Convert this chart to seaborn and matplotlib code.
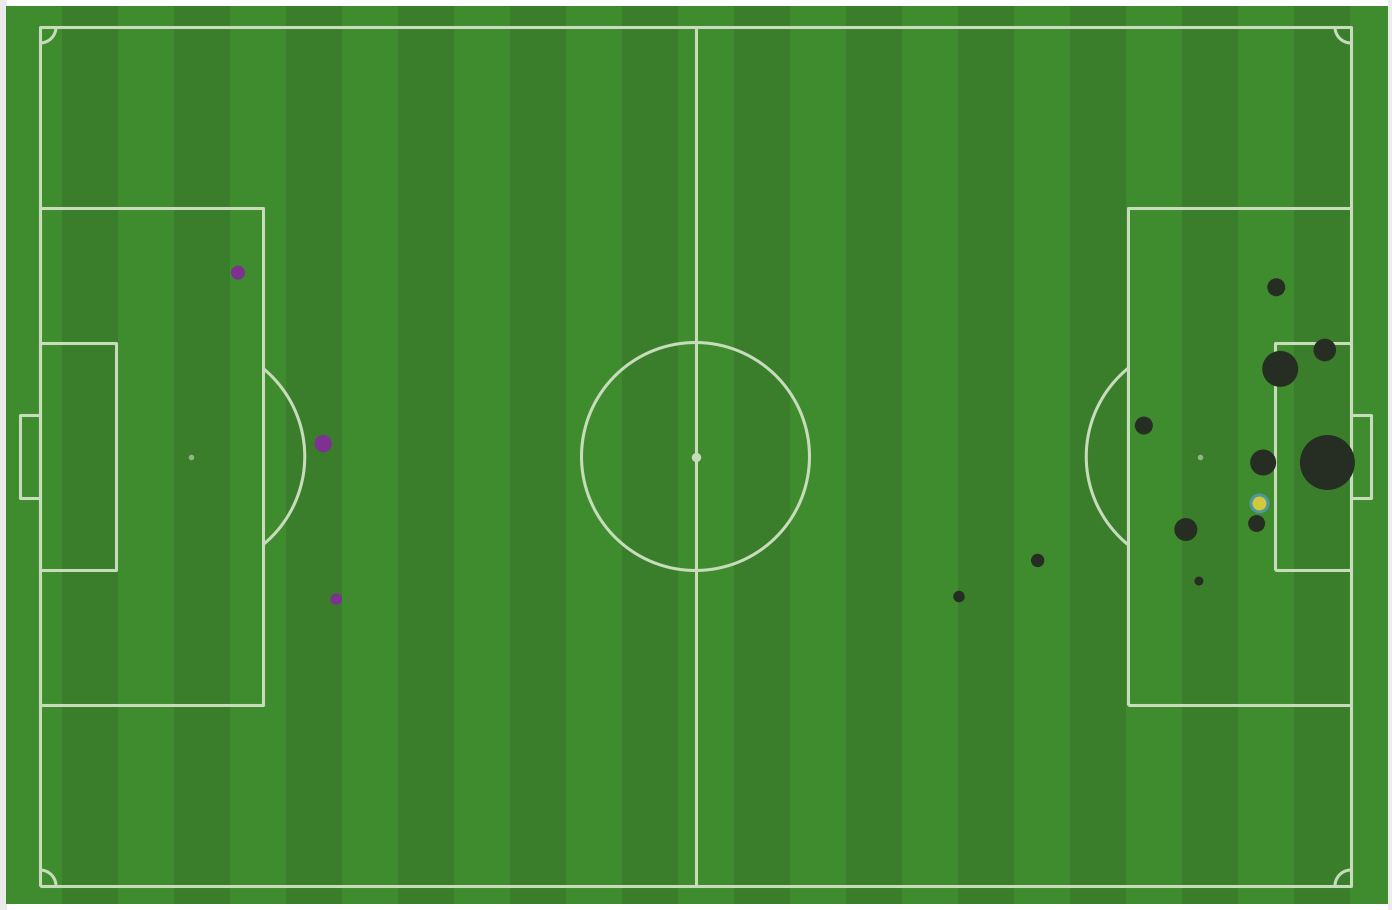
import numpy as np
import pandas as pd
import matplotlib
matplotlib.use("Agg")
import matplotlib.pyplot as plt
from matplotlib.patches import Rectangle
import seaborn as sns

# ---------------- data (Opta-style 0-100 pitch coordinates) ----------------
team_shot_x = [94.3, 98.0, 94.6, 84.2, 93.3, 98.2, 92.8, 87.4, 88.4, 76.1, 70.1]
team_shot_y = [69.7, 62.4, 60.2, 53.6, 49.3, 49.3, 42.2, 41.5, 35.5, 37.9, 33.7]
team_shot_xg = [0.081, 0.128, 0.324, 0.081, 0.169, 0.757, 0.072, 0.132, 0.020, 0.045, 0.033]

goal_x = [93.0]
goal_y = [44.6]
goal_xg = [0.072]

opp_shot_x = [15.1, 21.6, 22.6]
opp_shot_y = [71.4, 51.5, 33.4]
opp_shot_xg = [0.049, 0.076, 0.033]

# ---------------- figure / axes ----------------
W, H = 1392, 910
fig = plt.figure(figsize=(W / 100, H / 100), dpi=100, facecolor="white")
# light grey side strips of the frame
fig.patches.append(Rectangle((0, 0), 6 / W, 1, transform=fig.transFigure,
                             color="#ebebeb", zorder=-10))
fig.patches.append(Rectangle((1388 / W, 0), 4 / W, 1, transform=fig.transFigure,
                             color="#ebebeb", zorder=-10))

ax = fig.add_axes([6 / W, 6 / H, 1382 / W, 898 / H])
PX_X = 13.11   # pixels per x unit
PX_Y = 8.59    # pixels per y unit
x0_px, y0_px = 40, 886
ax.set_xlim((6 - x0_px) / PX_X, (1388 - x0_px) / PX_X)
ax.set_ylim((y0_px - 904) / PX_Y, (y0_px - 6) / PX_Y)
ax.axis("off")

# grass stripes
light_green = "#3f8c2e"
dark_green = "#3a7d2b"
ax.set_facecolor(light_green)
xmin, xmax = ax.get_xlim()
stripe_w = 56 / PX_X
k = 0
edge = xmin
while edge < xmax:
    ax.axvspan(edge, edge + stripe_w, color=light_green if k % 2 == 0 else dark_green,
               lw=0, zorder=0)
    edge += stripe_w
    k += 1

# pitch lines
lc = "#c6dcbb"
lw = 2.2


def line(xs, ys):
    ax.plot(xs, ys, color=lc, lw=lw, solid_capstyle="butt", zorder=2)


def rect(x1, x2, y1, y2):
    line([x1, x2, x2, x1, x1], [y1, y1, y2, y2, y1])


rect(0, 100, 0, 100)
line([50, 50], [0, 100])
rect(0, 17, 21.1, 78.9)
rect(83, 100, 21.1, 78.9)
rect(0, 5.8, 36.8, 63.2)
rect(94.2, 100, 36.8, 63.2)
line([0, -1.5, -1.5, 0], [45.2, 45.2, 54.8, 54.8])
line([100, 101.5, 101.5, 100], [45.2, 45.2, 54.8, 54.8])

R = 114  # px radius of centre circle
rx, ry = R / PX_X, R / PX_Y
t = np.linspace(0, 2 * np.pi, 400)
line(50 + rx * np.cos(t), 50 + ry * np.sin(t))

a = np.arccos(72 / R)
t = np.linspace(-a, a, 200)
line(11.5 + rx * np.cos(t), 50 + ry * np.sin(t))
line(88.5 - rx * np.cos(t), 50 + ry * np.sin(t))

cr = 16
crx, cry = cr / PX_X, cr / PX_Y
t = np.linspace(0, np.pi / 2, 50)
line(crx * np.cos(t), 100 - cry * np.sin(t))
line(100 - crx * np.cos(t), 100 - cry * np.sin(t))
line(crx * np.cos(t), cry * np.sin(t))
line(100 - crx * np.cos(t), cry * np.sin(t))

# spots
ax.scatter([50], [50], s=45, color=lc, lw=0, zorder=2)
ax.scatter([11.5, 88.5], [50, 50], s=16, color="#8fb585", lw=0, zorder=2)

# ---------------- shots ----------------
S_SCALE = 2070  # pt^2 per unit xG (area proportional to xG)
team = pd.DataFrame({"x": team_shot_x, "y": team_shot_y, "xg": team_shot_xg})
opp = pd.DataFrame({"x": opp_shot_x, "y": opp_shot_y, "xg": opp_shot_xg})
goals = pd.DataFrame({"x": goal_x, "y": goal_y, "xg": goal_xg})

common = dict(size="xg", sizes=(0, S_SCALE), size_norm=(0, 1), legend=False, ax=ax)
sns.scatterplot(data=team, x="x", y="y", color="#262e23", linewidth=0, zorder=5, **common)
sns.scatterplot(data=opp, x="x", y="y", color="#7e3190", linewidth=0, zorder=5, **common)
sns.scatterplot(data=goals, x="x", y="y", color="#d0c93b", edgecolor="#4f98a0",
                linewidth=2.2, zorder=6, **common)

ax.set_xlabel("")
ax.set_ylabel("")
fig.savefig("out.png", dpi=100, facecolor=fig.get_facecolor())
